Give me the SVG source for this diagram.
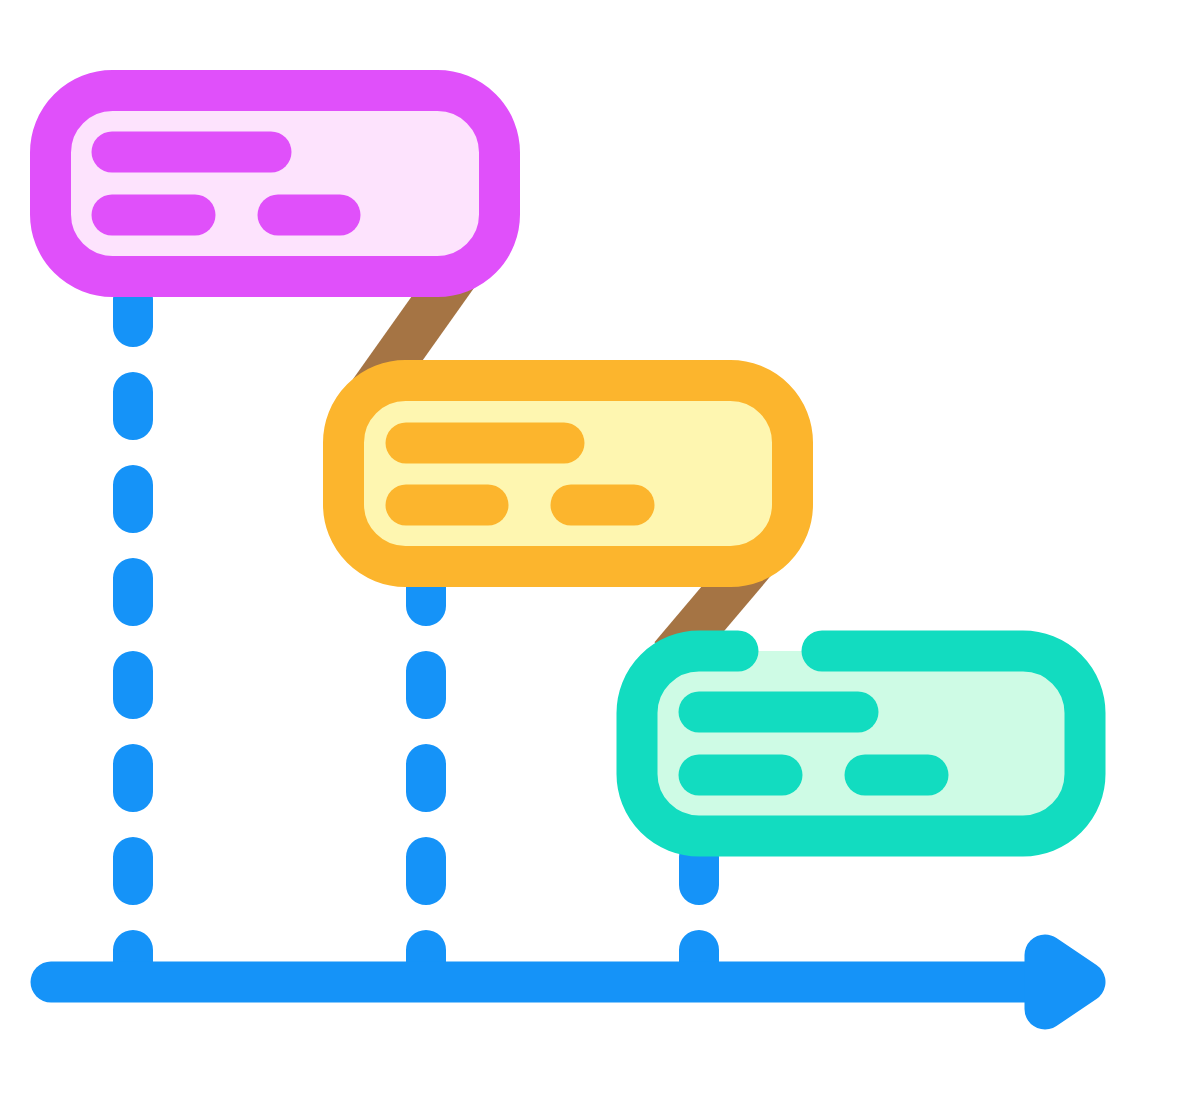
<svg xmlns="http://www.w3.org/2000/svg" width="1200" height="1112" viewBox="0 0 1200 1112">
  <style>
    .dash { fill: none; stroke: #1593f8; stroke-width: 40; stroke-linecap: round; stroke-dasharray: 28 65; }
    .link { fill: none; stroke: #a57444; stroke-width: 46; stroke-linecap: butt; }
    .bar { fill: none; stroke-width: 41; stroke-linecap: round; }
    .frame { stroke-width: 41; }
    .mag .frame { fill: #fde3fd; stroke: #e050fa; }
    .mag .bar { stroke: #e050fa; }
    .org .frame { fill: #fef6b0; stroke: #fcb52d; }
    .org .bar { stroke: #fcb52d; }
    .teal .fill { fill: #cefbe5; }
    .teal .edge { fill: none; stroke: #12dcc0; stroke-width: 41; stroke-linecap: round; }
    .teal .bar { stroke: #12dcc0; }
    .axis { fill: none; stroke: #1593f8; stroke-width: 41; stroke-linecap: round; stroke-linejoin: round; }
  </style>
  <rect width="1200" height="1112" fill="#ffffff"/>
  <g id="connectors">
    <line class="dash" x1="133" y1="299" x2="133" y2="980"/>
    <line class="dash" x1="426" y1="578" x2="426" y2="980"/>
    <line class="dash" x1="699" y1="857" x2="699" y2="980"/>
    <line class="link" x1="460" y1="268" x2="372" y2="392"/>
    <line class="link" x1="760" y1="553" x2="672" y2="657"/>
  </g>
  <g id="task1" class="mag">
    <rect class="frame" x="50.5" y="90.5" width="449" height="186" rx="62"/>
    <line class="bar" x1="112" y1="152" x2="271" y2="152"/>
    <line class="bar" x1="112" y1="215" x2="195" y2="215"/>
    <line class="bar" x1="278" y1="215" x2="340" y2="215"/>
  </g>
  <g id="task2" class="org">
    <rect class="frame" x="343.5" y="380.5" width="449" height="186" rx="62"/>
    <line class="bar" x1="406" y1="443" x2="564" y2="443"/>
    <line class="bar" x1="406" y1="505" x2="488" y2="505"/>
    <line class="bar" x1="571" y1="505" x2="634" y2="505"/>
  </g>
  <g id="task3" class="teal">
    <rect class="fill" x="637" y="651" width="448" height="185" rx="62"/>
    <path class="edge" d="M738 651 H699 A62 62 0 0 0 637 713 V774 A62 62 0 0 0 699 836 H1023 A62 62 0 0 0 1085 774 V713 A62 62 0 0 0 1023 651 H822"/>
    <line class="bar" x1="699" y1="712" x2="858" y2="712"/>
    <line class="bar" x1="699" y1="775" x2="782" y2="775"/>
    <line class="bar" x1="865" y1="775" x2="928" y2="775"/>
  </g>
  <g id="axis">
    <line class="axis" x1="51" y1="982" x2="1060" y2="982"/>
    <polygon class="axis" fill="#1593f8" points="1045,955 1085,982 1045,1009"/>
  </g>
</svg>
